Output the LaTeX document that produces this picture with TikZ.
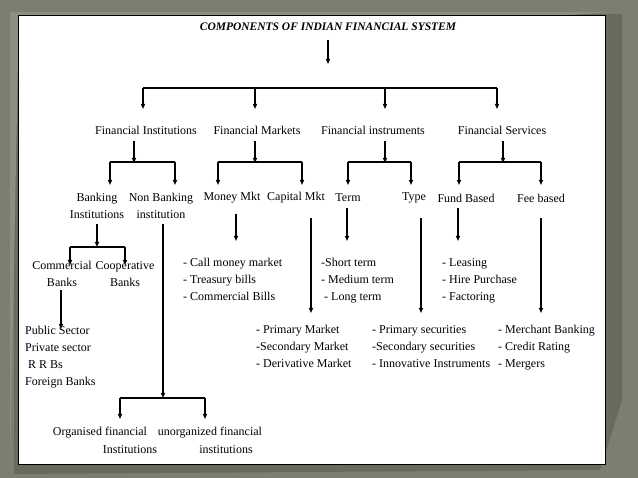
\documentclass[tikz,border=0pt]{standalone}
\usepackage{fontspec}
\setmainfont{Liberation Serif}
\usetikzlibrary{arrows.meta}
\begin{document}
\begin{tikzpicture}[x=1pt,y=-1pt,
  lbl/.style={inner sep=0pt,font=\fontsize{12}{16.5}\selectfont,align=center},
  lst/.style={inner sep=0pt,font=\fontsize{12}{17}\selectfont,align=left,anchor=north west},
  ln/.style={line width=1.1pt},
  ar/.style={line width=1.1pt,-{Triangle[length=5pt,width=4pt]}}]
\fill[fill={rgb,255:red,124;green,127;blue,111}] (0,0) rectangle (638,478);
\fill[fill={rgb,255:red,104;green,107;blue,92}] (14,20) -- (622,14) -- (622,400) -- (600,470) -- (14,474) -- cycle;
\fill[fill={rgb,255:red,140;green,143;blue,128}] (10,12) -- (608,12) -- (18,60) -- (10,470) -- cycle;
\draw[fill=white,line width=1pt] (18,16) rectangle (605,465);
\useasboundingbox (0,0) rectangle (638,478);

\node[lbl,font=\fontsize{11.5}{13}\bfseries\itshape\selectfont] (title) at (328,27) {COMPONENTS OF INDIAN FINANCIAL SYSTEM};
\coordinate (top) at (328,64);
\draw[ar] (328,40) -- (top);

\node[lbl] (fi) at (146,130) {Financial Institutions};
\node[lbl] (fm) at (257,130) {Financial Markets};
\node[lbl] (fin) at (373,130) {Financial instruments};
\node[lbl] (fs) at (502,130) {Financial Services};
\coordinate (b1) at (143,88); \coordinate (b2) at (255,88);
\coordinate (b3) at (385,88); \coordinate (b4) at (497,88);
\draw[ln] (b1) -- (b4);
\foreach \c in {b1,b2,b3,b4} \draw[ar] (\c) -- ++(0,21);

% level 2
\node[lbl] (bank) at (97,206) {Banking\\Institutions};
\node[lbl] (nbank) at (161,206) {Non Banking\\institution};
\node[lbl] (mm) at (232,198) {Money Mkt};
\node[lbl] (cm) at (296,198) {Capital Mkt};
\node[lbl] (term) at (348,198) {Term};
\node[lbl] (type) at (414,198) {Type};
\node[lbl] (fund) at (466,198) {Fund Based};
\node[lbl] (fee) at (541,198) {Fee based};

\foreach \p/\l/\r in {134/110/175, 255/218/302, 385/348/411, 503/459/541}{
  \draw[ar] (\p,141) -- (\p,163);
  \draw[ln] (\l,162) -- (\r,162);
  \draw[ar] (\l,162) -- (\l,185);
  \draw[ar] (\r,162) -- (\r,185);
}

% banking
\node[lbl] (comm) at (62,274) {Commercial\\Banks};
\node[lbl] (coop) at (125,274) {Cooperative\\Banks};
\draw[ar] (97,224) -- (97,247);
\draw[ln] (70,247) -- (125,247);
\draw[ar] (70,247) -- (70,265);
\draw[ar] (125,247) -- (125,265);
\node[lst] (pub) at (25,326) {Public Sector\\Private sector\\\ R R Bs\\Foreign Banks};
\draw[ar] (61,290) -- (61,329);

% non banking
\coordinate (nb) at (163,398);
\draw[ar] (163,224) -- (nb);
\draw[ln] (120,398) -- (205,398);
\draw[ar] (120,398) -- (120,419);
\draw[ar] (205,398) -- (205,419);
\node[lbl] (org) at (100,433) {Organised financial};
\node[lbl] (unorg) at (210,433) {unorganized financial};
\node[lbl] (inst1) at (130,450) {Institutions};
\node[lbl] (inst2) at (226,450) {institutions};

% lists
\node[lst] (mml) at (183,258) {- Call money market\\- Treasury bills\\- Commercial Bills};
\draw[ar] (236,214) -- (236,241);
\node[lst] (cml) at (256,325) {- Primary Market\\-Secondary Market\\- Derivative Market};
\draw[ar] (311,218) -- (311,313);
\node[lst] (tl) at (321,258) {-Short term\\- Medium term\\\ - Long term};
\draw[ar] (347,208) -- (347,241);
\node[lst] (tyl) at (372,325) {- Primary securities\\-Secondary securities\\- Innovative Instruments};
\draw[ar] (421,218) -- (421,313);
\node[lst] (fl) at (442,258) {- Leasing\\- Hire Purchase\\- Factoring};
\draw[ar] (458,208) -- (458,241);
\node[lst] (fel) at (498,325) {- Merchant Banking\\- Credit Rating\\- Mergers};
\draw[ar] (541,218) -- (541,313);
\end{tikzpicture}
\end{document}
